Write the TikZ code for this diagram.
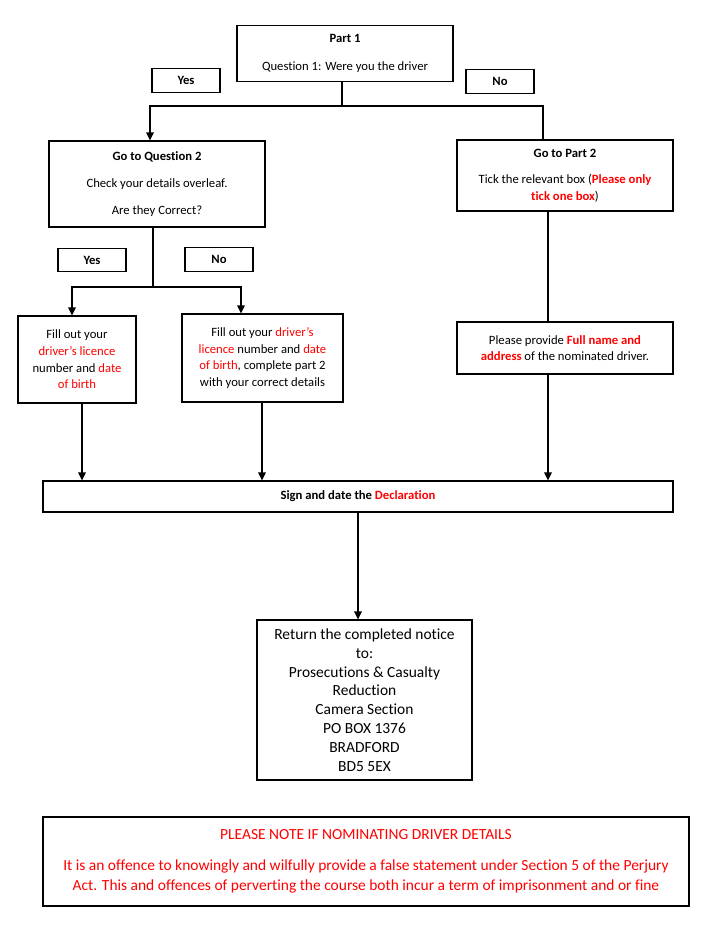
\documentclass[tikz,border=0pt]{standalone}
\usepackage{fontspec}
\setmainfont{Carlito}[Ligatures=NoCommon]
\usetikzlibrary{arrows.meta}
\tikzset{
  box/.style={draw, line width=0.8pt, inner sep=0pt, align=center, font=\fontsize{9.5}{12.5}\selectfont},
  tag/.style={box, minimum width=51pt, minimum height=17.5pt, font=\fontsize{9.5}{10}\selectfont\bfseries},
  link/.style={line width=1.5pt},
  flow/.style={link, -{Triangle[width=5.5pt,length=6pt]}},
}
\newcommand{\hl}[1]{\textcolor{red}{#1}}

\begin{document}
\begin{tikzpicture}[x=0.75pt,y=-0.75pt]
  \useasboundingbox (0,0) rectangle (713,932);
  % question 1
  \node[box, minimum width=162pt, minimum height=42pt] (part1) at (345,53.5) {\textbf{Part 1}\\[8.5pt] Question 1: Were you the driver};
  \node[tag] (yes1) at (186,80.5) {Yes};
  \node[tag] (no1) at (500,81.5) {No};
  \node[box, minimum width=162pt, minimum height=64.5pt] (q2) at (157,184) {\textbf{Go to Question 2}\\[8pt] Check your details overleaf.\\[8pt] Are they Correct?};
  \node[box, minimum width=162pt, minimum height=53.25pt] (part2) at (565,175.5) {\textbf{Go to Part 2}\\[7pt] Tick the relevant box (\hl{\textbf{Please only}}\\ \hl{\textbf{tick one box}})};
  % question 2
  \node[tag] (yes2) at (92,260) {Yes};
  \node[tag] (no2) at (219,259.5) {No};
  \node[box, minimum width=88.5pt, minimum height=65.25pt] (fillA) at (77,359.5) {Fill out your\\ \hl{driver’s licence}\\ number and \hl{date}\\ \hl{of birth}};
  \node[box, minimum width=120.75pt, minimum height=66pt] (fillB) at (262.5,358) {Fill out your \hl{driver’s}\\ \hl{licence} number and \hl{date}\\ \hl{of birth}, complete part 2\\ with your correct details};
  \node[box, minimum width=162pt, minimum height=39pt] (nominate) at (565,348) {Please provide \hl{\textbf{Full name and}}\\ \hl{\textbf{address}} of the nominated driver.};
  % end of the form
  \node[box, minimum width=472.5pt, minimum height=23.25pt, font=\fontsize{9.5}{12.5}\selectfont\bfseries] (decl) at (358,496.5) {Sign and date the \hl{Declaration}};
  \node[box, minimum width=161.25pt, minimum height=120pt, font=\fontsize{11.6}{14.1}\selectfont] (ret) at (364.5,700) {Return the completed notice\\ to:\\ Prosecutions \& Casualty\\ Reduction\\ Camera Section\\ PO BOX 1376\\ BRADFORD\\ BD5 5EX};
  \node[box, minimum width=484.5pt, minimum height=66.75pt, font=\fontsize{11.6}{15}\selectfont, text=red] (warn) at (366,861.5) {PLEASE NOTE IF NOMINATING DRIVER DETAILS\\[8.25pt] It is an offence to knowingly and wilfully provide a false statement under Section 5 of the Perjury\\ Act. This and offences of perverting the course both incur a term of imprisonment and or fine};

  \coordinate (s1) at (342,106);
  \coordinate (jl) at (150,106);
  \coordinate (jr) at (543,106);
  \draw[flow] (s1 |- part1.south) -- (s1) -- (jl) -- (jl |- q2.north);
  \draw[link] (s1) -- (jr) -- (jr |- part2.north);

  \coordinate (s2) at (153,287);
  \coordinate (kl) at (72,287);
  \coordinate (kr) at (241,287);
  \draw[link] (s2 |- q2.south) -- (s2);
  \draw[flow] (s2) -- (kl) -- (kl |- fillA.north);
  \draw[flow] (s2) -- (kr) -- (kr |- fillB.north);

  \coordinate (cA) at (82,0);
  \coordinate (cB) at (262,0);
  \coordinate (cC) at (548,0);
  \coordinate (cD) at (358,0);
  \draw[link] (cC |- part2.south) -- (cC |- nominate.north);
  \draw[flow] (cA |- fillA.south) -- (cA |- decl.north);
  \draw[flow] (cB |- fillB.south) -- (cB |- decl.north);
  \draw[flow] (cC |- nominate.south) -- (cC |- decl.north);
  \draw[flow] (cD |- decl.south) -- (cD |- ret.north);
\end{tikzpicture}
\end{document}
